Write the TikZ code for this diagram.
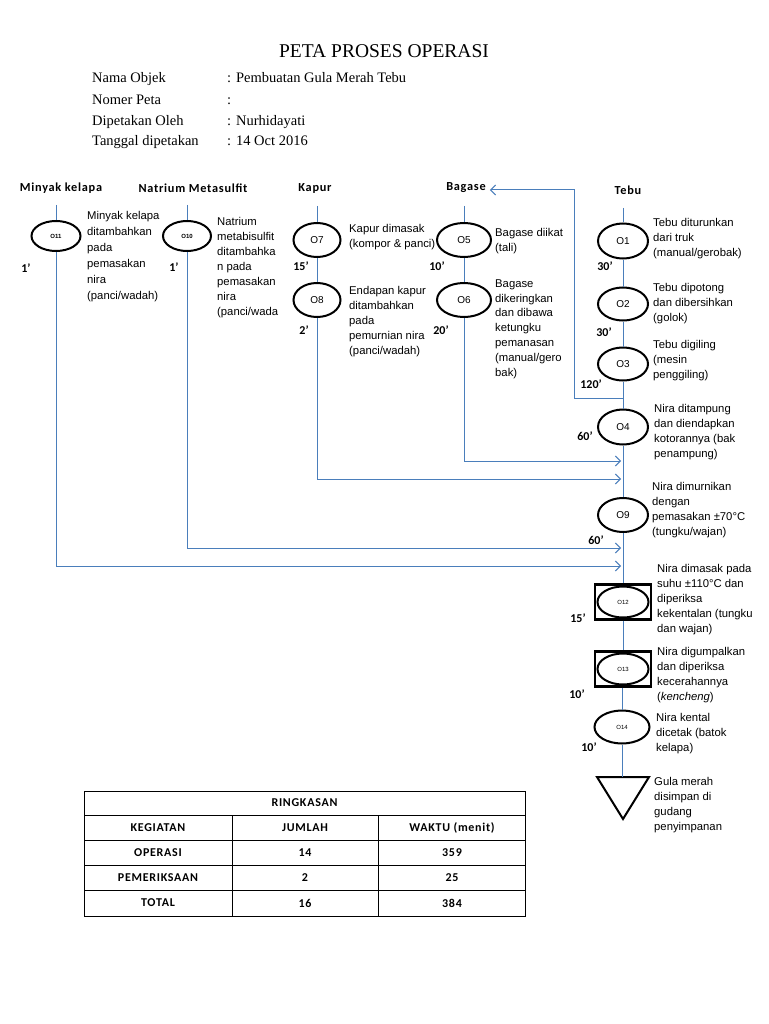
\documentclass[tikz,border=0pt]{standalone}
\usepackage{fontspec}
\setmainfont{Liberation Serif}
\newfontfamily\arialf{Liberation Sans}
\newfontfamily\calf{Carlito}
\newfontfamily\calsp[LetterSpace=6]{Carlito}
\usetikzlibrary{shapes.geometric,arrows.meta}
\definecolor{flowblue}{HTML}{4A7EBB}
\newcommand\fstrut{\rule{0pt}{9pt}}
\begin{document}
\begin{tikzpicture}[x=1pt,y=-1pt,
  flow/.style={draw=flowblue, line width=1pt},
  merge/.style={flow, -{Straight Barb[length=5pt,width=10pt,line width=1pt]}},
  opel/.style={ellipse, draw, line width=2pt, minimum width=50pt, minimum height=35pt, inner sep=0pt, font=\arialf\fontsize{10}{12}\selectfont},
  smallop/.style={opel, font=\arialf\bfseries\fontsize{6}{7}\selectfont},
  insp/.style={rectangle, draw, line width=2.2pt, minimum width=56pt, minimum height=35pt, inner sep=0pt},
  desc/.style={anchor=north west, align=left, inner sep=0pt, font=\arialf\fontsize{11.3}{15}\selectfont},
  tm/.style={font=\calf\bfseries\fontsize{12}{12}\selectfont, inner sep=0pt},
  colhead/.style={font=\calsp\bfseries\fontsize{12.3}{14}\selectfont, inner sep=0pt},
  hdr/.style={anchor=base west, inner sep=0pt, font=\fontsize{14.5}{16}\selectfont},
  tbl/.style={font=\calsp\bfseries\fontsize{12}{13}\selectfont, inner sep=0pt}
]
\useasboundingbox[fill=white] (0,0) rectangle (768,1024);

% ---------- header ----------
\node[anchor=base, inner sep=0pt, font=\fontsize{19.5}{22}\selectfont] (title) at (384,58) {PETA PROSES OPERASI};
\node[hdr] (h1) at (92,83) {Nama Objek};
\node[hdr] (h2) at (92,105) {Nomer Peta};
\node[hdr] (h3) at (92,126) {Dipetakan Oleh};
\node[hdr] (h4) at (92,146) {Tanggal dipetakan};
\node[hdr] (v1) at (227,83) {: Pembuatan Gula Merah Tebu};
\node[hdr] (v2) at (227,105) {:};
\node[hdr] (v3) at (227,126) {: Nurhidayati};
\node[hdr] (v4) at (227,146) {: 14 Oct 2016};

% ---------- column heads ----------
\node[colhead] (minyak) at (61,188) {Minyak kelapa};
\node[colhead] (natrium) at (193,188) {Natrium Metasulfit};
\node[colhead] (kapur) at (315,188) {Kapur};
\node[colhead] (bagase) at (466,188) {Bagase};
\node[colhead] (tebu) at (628,190) {Tebu};

% ---------- operations ----------
\node[smallop, minimum width=49pt, minimum height=30pt] (o11) at (56,236) {O11};
\node[smallop, minimum width=48pt, minimum height=30pt] (o10) at (187,236) {O10};
\node[opel, minimum width=47pt, minimum height=34pt] (o7) at (317,240) {O7};
\node[opel, minimum width=47pt, minimum height=34pt] (o8) at (317,300) {O8};
\node[opel, minimum width=54pt, minimum height=34pt] (o5) at (464,240) {O5};
\node[opel, minimum width=54pt, minimum height=34pt] (o6) at (464,300) {O6};
\node[opel] (o1) at (623,241) {O1};
\node[opel, minimum height=33pt] (o2) at (623,304) {O2};
\node[opel, minimum height=33pt] (o3) at (623,364) {O3};
\node[opel] (o4) at (623,427) {O4};
\node[opel, minimum height=34pt] (o9) at (623,515) {O9};
\node[insp] (o12box) at (623,602) {};
\node[smallop, minimum width=51pt, minimum height=31pt, font=\arialf\fontsize{6}{7}\selectfont] (o12) at (623,602) {O12};
\node[insp] (o13box) at (623,669) {};
\node[smallop, minimum width=51pt, minimum height=31pt, font=\arialf\fontsize{6}{7}\selectfont] (o13) at (623,669) {O13};
\node[smallop, minimum width=55pt, minimum height=33pt, font=\arialf\fontsize{6}{7}\selectfont] (o14) at (622,727) {O14};

% storage triangle
\coordinate (triTop) at (622,777);
\coordinate (triL) at (597,777);
\coordinate (triR) at (649,777);
\coordinate (triB) at (623,819);
\draw[line width=2pt, line join=miter] (triL) -- (triR) -- (triB) -- cycle;

% ---------- descriptions ----------
\node[desc, font=\arialf\fontsize{11.3}{16}\selectfont] (d11) at (87,210) {\fstrut Minyak kelapa\\ditambahkan\\pada\\pemasakan\\nira\\(panci/wadah)};
\node[desc] (d10) at (217,216) {\fstrut Natrium\\metabisulfit\\ditambahka\\n pada\\pemasakan\\nira\\(panci/wada};
\node[desc] (d7) at (349,223) {\fstrut Kapur dimasak\\(kompor \& panci)};
\node[desc] (d8) at (349,285) {\fstrut Endapan kapur\\ditambahkan\\pada\\pemurnian nira\\(panci/wadah)};
\node[desc] (d5) at (495,227) {\fstrut Bagase diikat\\(tali)};
\node[desc, font=\arialf\fontsize{11.3}{14.8}\selectfont] (d6) at (495,278) {\fstrut Bagase\\dikeringkan\\dan dibawa\\ketungku\\pemanasan\\(manual/gero\\bak)};
\node[desc] (d1) at (653,217) {\fstrut Tebu diturunkan\\dari truk\\(manual/gerobak)};
\node[desc] (d2) at (653,282) {\fstrut Tebu dipotong\\dan dibersihkan\\(golok)};
\node[desc] (d3) at (653,339) {\fstrut Tebu digiling\\(mesin\\penggiling)};
\node[desc] (d4) at (654,403) {\fstrut Nira ditampung\\dan diendapkan\\kotorannya (bak\\penampung)};
\node[desc] (d9) at (652,481) {\fstrut Nira dimurnikan\\dengan\\pemasakan ±70°C\\(tungku/wajan)};
\node[desc] (d12) at (657,563) {\fstrut Nira dimasak pada\\suhu ±110°C dan\\diperiksa\\kekentalan (tungku\\dan wajan)};
\node[desc] (d13) at (657,646) {\fstrut Nira digumpalkan\\dan diperiksa\\kecerahannya\\(\textit{kencheng})};
\node[desc] (d14) at (656,712) {\fstrut Nira kental\\dicetak (batok\\kelapa)};
\node[desc] (dtri) at (654,776) {\fstrut Gula merah\\disimpan di\\gudang\\penyimpanan};

% ---------- times ----------
\node[tm] (t11) at (26,268) {1’};
\node[tm] (t10) at (174,267) {1’};
\node[tm] (t7) at (301,266) {15’};
\node[tm] (t8) at (304,330) {2’};
\node[tm] (t5) at (437,266) {10’};
\node[tm] (t6) at (441,330) {20’};
\node[tm] (t1) at (605,266) {30’};
\node[tm] (t2) at (604,332) {30’};
\node[tm] (t3) at (591,384) {120’};
\node[tm] (t4) at (585,436) {60’};
\node[tm] (t9) at (596,540) {60’};
\node[tm] (t12) at (578,618) {15’};
\node[tm] (t13) at (577,694) {10’};
\node[tm] (t14) at (589,747) {10’};

% ---------- connectors ----------
\coordinate (top11) at (56,205);
\coordinate (bot11) at (56,566);
\coordinate (in11) at (621,566);
\coordinate (top10) at (187,205);
\coordinate (bot10) at (187,548);
\coordinate (in10) at (621,548);
\coordinate (top7) at (317,206);
\coordinate (bot7) at (317,479);
\coordinate (in7) at (621,479);
\coordinate (top5) at (464,206);
\coordinate (bot5) at (464,461);
\coordinate (in5) at (621,461);
\coordinate (top1) at (623,208);
\coordinate (fb0) at (623,398);
\coordinate (fb1) at (574,398);
\coordinate (fb2) at (574,190);

\draw[flow] (top11) -- (o11);
\draw[merge] (o11) -- (bot11) -- (in11);
\draw[flow] (top10) -- (o10);
\draw[merge] (o10) -- (bot10) -- (in10);
\draw[flow] (top7) -- (o7);
\draw[flow] (o7) -- (o8);
\draw[merge] (o8) -- (bot7) -- (in7);
\draw[flow] (top5) -- (o5);
\draw[flow] (o5) -- (o6);
\draw[merge] (o6) -- (bot5) -- (in5);

\draw[flow] (top1) -- (o1);
\draw[flow] (o1) -- (o2);
\draw[flow] (o2) -- (o3);
\draw[flow] (o3) -- (o4);
\draw[flow] (o4) -- (o9);
\draw[flow] (o9) -- (o12box);
\draw[flow] (o12box) -- (o13box);
\draw[flow] (o13box.south -| o14) -- (o14);
\draw[flow] (o14) -- (triTop);
\draw[flow, -{Straight Barb[length=5pt,width=10pt,line width=1pt]}, shorten >=4pt] (fb0) -- (fb1) -- (fb2) -- (bagase.east |- fb2);

% ---------- summary table ----------
\draw[line width=1pt] (84,791) rectangle (525,916);
\draw[line width=1pt] (84,815) -- (525,815);
\draw[line width=1pt] (84,840) -- (525,840);
\draw[line width=1pt] (84,865) -- (525,865);
\draw[line width=1pt] (84,890) -- (525,890);
\draw[line width=1pt] (232,815) -- (232,916);
\draw[line width=1pt] (378,815) -- (378,916);
\node[tbl] (r0) at (304.5,803) {RINGKASAN};
\node[tbl] (c11) at (158,828) {KEGIATAN};
\node[tbl] (c12) at (305,828) {JUMLAH};
\node[tbl] (c13) at (452,828) {WAKTU (menit)};
\node[tbl] (c21) at (158,853) {OPERASI};
\node[tbl] (c22) at (305,853) {14};
\node[tbl] (c23) at (452,853) {359};
\node[tbl] (c31) at (158,878) {PEMERIKSAAN};
\node[tbl] (c32) at (305,878) {2};
\node[tbl] (c33) at (452,878) {25};
\node[tbl] (c41) at (158,903) {TOTAL};
\node[tbl] (c42) at (305,903) {16};
\node[tbl] (c43) at (452,903) {384};
\end{tikzpicture}
\end{document}
